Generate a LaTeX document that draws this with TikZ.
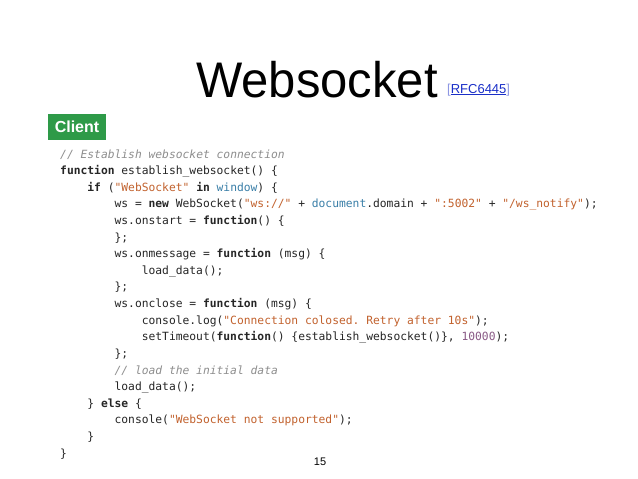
\documentclass[tikz,border=0pt]{standalone}
\usepackage{fontspec}
\setmainfont{Liberation Sans}
\setmonofont{DejaVu Sans Mono}
\definecolor{strc}{HTML}{C2622E}
\definecolor{cmc}{HTML}{8E8E8E}
\definecolor{blc}{HTML}{3A7FA8}
\definecolor{nmc}{HTML}{8A5A86}
\definecolor{grn}{HTML}{2E9A48}
\definecolor{lnk}{HTML}{1A2FC8}
\newcommand{\kw}[1]{\textbf{#1}}
\newcommand{\st}[1]{\textcolor{strc}{#1}}
\newcommand{\cm}[1]{\textcolor{cmc}{\itshape #1}}
\newcommand{\bl}[1]{\textcolor{blc}{#1}}
\newcommand{\nm}[1]{\textcolor{nmc}{#1}}
\begin{document}
\begin{tikzpicture}[x=1pt,y=-1pt,
  code/.style={anchor=base west,inner sep=0pt,font=\ttfamily\fontsize{11.3}{13}\selectfont,text=black!85}]
\useasboundingbox[fill=white] (0,0) rectangle (638,479);
\node[anchor=base west,inner sep=0pt,font=\fontsize{50}{56}\selectfont,xscale=0.98] (title) at (196,97) {Websocket};
\node[anchor=base west,inner sep=0pt,font=\fontsize{13}{15}\selectfont] (rfc) at (447,93) {\textcolor{lnk!50}{[}\textcolor{lnk}{\underline{RFC6445}}\textcolor{lnk!50}{]}};
\node[fill=grn,text=white,font=\bfseries\fontsize{16}{18}\selectfont,minimum width=58pt,minimum height=26pt,inner sep=0pt] (client) at (77,127) {Client};
\def\L#1#2#3{\node[code] (c#1) at ({60+27.2*#2},{158+16.62*#1}) {#3};}
\L{0}{0}{\cm{// Establish websocket connection}}
\L{1}{0}{\kw{function} establish\_websocket() \{}
\L{2}{1}{\kw{if} (\st{"WebSocket"} \kw{in} \bl{window}) \{}
\L{3}{2}{ws = \kw{new} WebSocket(\st{"ws://"} + \bl{document}.domain + \st{":5002"} + \st{"/ws\_notify"});}
\L{4}{2}{ws.onstart = \kw{function}() \{}
\L{5}{2}{\};}
\L{6}{2}{ws.onmessage = \kw{function} (msg) \{}
\L{7}{3}{load\_data();}
\L{8}{2}{\};}
\L{9}{2}{ws.onclose = \kw{function} (msg) \{}
\L{10}{3}{console.log(\st{"Connection colosed. Retry after 10s"});}
\L{11}{3}{setTimeout(\kw{function}() \{establish\_websocket()\}, \nm{10000});}
\L{12}{2}{\};}
\L{13}{2}{\cm{// load the initial data}}
\L{14}{2}{load\_data();}
\L{15}{1}{\} \kw{else} \{}
\L{16}{2}{console(\st{"WebSocket not supported"});}
\L{17}{1}{\}}
\L{18}{0}{\}}
\node[anchor=base,inner sep=0pt,font=\fontsize{11}{13}\selectfont] (pg) at (320,465) {15};
\end{tikzpicture}
\end{document}
